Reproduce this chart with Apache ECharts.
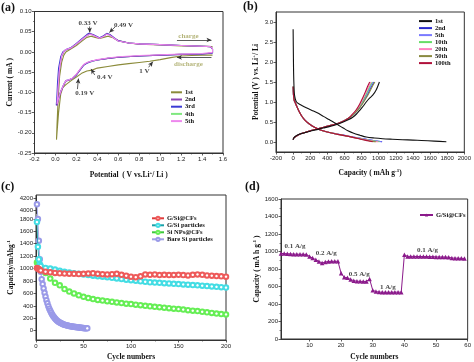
<!DOCTYPE html>
<html><head><meta charset="utf-8">
<script src="https://cdn.jsdelivr.net/npm/echarts@6/dist/echarts.min.js"></script>
<style>html,body{margin:0;padding:0;background:#fff}#c{width:474px;height:362px}</style>
</head><body><div id="c"></div>
<script>
// ---------- Panel (a): CV curves [V, mA] ----------
var cv1st = [[1.50,-0.008],[1.40,-0.008],[1.30,-0.009],[1.20,-0.010],[1.10,-0.014],[1.00,-0.019],[0.90,-0.023],[0.80,-0.026],[0.70,-0.029],[0.60,-0.032],[0.50,-0.036],[0.40,-0.040],[0.35,-0.045],[0.30,-0.047],[0.25,-0.053],[0.20,-0.062],[0.15,-0.071],[0.10,-0.081],[0.07,-0.088],[0.05,-0.105],[0.03,-0.150],[0.015,-0.200],[0.01,-0.217],[0.015,-0.180],[0.025,-0.120],[0.04,-0.060],[0.06,-0.025],[0.08,-0.008],[0.10,0.000],[0.15,0.008],[0.20,0.016],[0.25,0.026],[0.30,0.036],[0.34,0.039],[0.38,0.036],[0.42,0.033],[0.46,0.036],[0.50,0.039],[0.55,0.035],[0.60,0.028],[0.70,0.022],[0.80,0.019],[1.00,0.017],[1.20,0.015],[1.40,0.014],[1.50,0.013]];
var cv2nd = [[1.50,-0.002],[1.45,-0.004],[1.40,-0.005],[1.20,-0.006],[1.00,-0.008],[0.80,-0.010],[0.60,-0.013],[0.50,-0.016],[0.40,-0.020],[0.35,-0.022],[0.30,-0.027],[0.27,-0.032],[0.24,-0.042],[0.20,-0.056],[0.16,-0.066],[0.13,-0.070],[0.10,-0.072],[0.08,-0.082],[0.05,-0.100],[0.03,-0.117],[0.015,-0.133],[0.01,-0.137],[0.02,-0.110],[0.03,-0.075],[0.04,-0.040],[0.06,-0.010],[0.08,0.000],[0.10,0.005],[0.15,0.010],[0.20,0.020],[0.25,0.030],[0.30,0.041],[0.33,0.045],[0.36,0.042],[0.42,0.034],[0.46,0.039],[0.49,0.045],[0.52,0.042],[0.56,0.034],[0.60,0.027],[0.70,0.022],[0.80,0.020],[1.00,0.018],[1.20,0.016],[1.40,0.014],[1.48,0.013],[1.50,0.008],[1.50,-0.002]];
var cv3rd = [[1.50,-0.003],[1.40,-0.005],[1.20,-0.006],[1.00,-0.008],[0.80,-0.010],[0.60,-0.013],[0.50,-0.016],[0.40,-0.020],[0.35,-0.023],[0.30,-0.028],[0.27,-0.033],[0.24,-0.043],[0.20,-0.057],[0.16,-0.066],[0.13,-0.069],[0.10,-0.071],[0.08,-0.080],[0.05,-0.098],[0.03,-0.113],[0.015,-0.127],[0.008,-0.132],[0.015,-0.105],[0.02,-0.075],[0.03,-0.040],[0.05,-0.012],[0.07,0.000],[0.10,0.006],[0.15,0.011],[0.20,0.021],[0.25,0.032],[0.30,0.043],[0.32,0.046],[0.36,0.043],[0.42,0.035],[0.46,0.040],[0.49,0.046],[0.52,0.043],[0.56,0.035],[0.60,0.028],[0.70,0.022],[0.80,0.020],[1.00,0.018],[1.20,0.016],[1.40,0.014],[1.48,0.013],[1.50,0.007],[1.50,-0.003]];
var cv4th = [[1.50,-0.002],[1.40,-0.005],[1.20,-0.006],[1.00,-0.008],[0.80,-0.010],[0.60,-0.013],[0.50,-0.016],[0.40,-0.020],[0.30,-0.027],[0.27,-0.032],[0.24,-0.042],[0.20,-0.056],[0.16,-0.066],[0.13,-0.070],[0.10,-0.072],[0.08,-0.081],[0.05,-0.099],[0.03,-0.115],[0.015,-0.130],[0.01,-0.134],[0.02,-0.108],[0.03,-0.073],[0.04,-0.039],[0.06,-0.010],[0.08,0.000],[0.10,0.005],[0.15,0.010],[0.20,0.020],[0.25,0.030],[0.30,0.040],[0.33,0.044],[0.36,0.041],[0.42,0.034],[0.46,0.038],[0.49,0.044],[0.52,0.041],[0.56,0.034],[0.60,0.027],[0.70,0.022],[0.80,0.020],[1.00,0.018],[1.20,0.016],[1.40,0.014],[1.48,0.013],[1.50,0.008],[1.50,-0.002]];
var cv5th = [[1.50,-0.001],[1.40,-0.004],[1.20,-0.005],[1.00,-0.007],[0.80,-0.009],[0.60,-0.012],[0.50,-0.015],[0.40,-0.019],[0.30,-0.026],[0.27,-0.031],[0.24,-0.041],[0.20,-0.055],[0.16,-0.065],[0.13,-0.069],[0.10,-0.071],[0.08,-0.080],[0.05,-0.098],[0.03,-0.114],[0.015,-0.129],[0.01,-0.133],[0.02,-0.107],[0.03,-0.072],[0.04,-0.038],[0.06,-0.009],[0.08,0.001],[0.10,0.006],[0.15,0.010],[0.20,0.020],[0.25,0.030],[0.30,0.040],[0.33,0.044],[0.36,0.041],[0.42,0.034],[0.46,0.038],[0.49,0.044],[0.52,0.041],[0.56,0.034],[0.60,0.027],[0.70,0.022],[0.80,0.020],[1.00,0.018],[1.20,0.016],[1.40,0.014],[1.48,0.013],[1.50,0.008],[1.50,-0.001]];
var cvNames = ['1st','2nd','3rd','4th','5th'];
// annotations [V, I, text]
var cvNotes = [[0.31,0.072,'0.33 V'],[0.65,0.066,'0.49 V'],[0.47,-0.063,'0.4 V'],[0.28,-0.101,'0.19 V'],[0.85,-0.048,'1 V']];
var cvArrows = [[[0.326,0.063],[0.328,0.048]],[[0.57,0.062],[0.515,0.048]],[[0.375,-0.057],[0.34,-0.042]],[[0.21,-0.092],[0.22,-0.066]],[[0.89,-0.038],[0.93,-0.024]]];
var cvDirNotes = [[1.27,0.0395,'charge'],[1.27,-0.030,'discharge']];
var cvDirArrows = [[[1.16,0.0296],[1.49,0.0296]],[[1.49,-0.0135],[1.16,-0.0135]]];

// ---------- Panel (b): charge/discharge [mAh/g, V] ----------
var b1dis = [[0,2.82],[2,2.4],[4,2.0],[6,1.7],[10,1.4],[15,1.2],[25,1.08],[40,1.0],[70,0.95],[123,0.89],[180,0.83],[238,0.775],[300,0.71],[354,0.64],[420,0.56],[469,0.5],[530,0.42],[585,0.35],[640,0.28],[700,0.225],[780,0.17],[854,0.125],[950,0.10],[1046,0.083],[1160,0.07],[1277,0.058],[1400,0.047],[1500,0.038],[1650,0.022],[1790,0.005]];
var b1chg = [[0,0.06],[15,0.12],[46,0.17],[123,0.225],[200,0.27],[277,0.31],[350,0.35],[430,0.39],[510,0.44],[585,0.5],[650,0.56],[700,0.625],[740,0.70],[777,0.79],[820,0.90],[854,1.0],[890,1.09],[930,1.17],[970,1.30],[1008,1.5]];
var b2dis = [[0,1.38],[2,1.28],[5,1.15],[12,1.05],[25,0.98],[45,0.88],[70,0.76],[100,0.65],[140,0.54],[190,0.45],[250,0.37],[320,0.30],[400,0.25],[500,0.205],[600,0.165],[700,0.125],[800,0.088],[880,0.058],[950,0.033],[1000,0.018],[1040,0.005]];
var b2chg = [[0,0.06],[8,0.10],[25,0.13],[50,0.165],[90,0.205],[140,0.24],[200,0.28],[280,0.325],[360,0.37],[440,0.415],[520,0.465],[590,0.525],[650,0.6],[700,0.68],[750,0.79],[795,0.92],[840,1.08],[880,1.24],[915,1.39],[945,1.5]];
var b5dis = [[0,1.38],[2,1.28],[5,1.15],[12,1.05],[25,0.98],[45,0.88],[70,0.76],[100,0.65],[140,0.54],[190,0.45],[250,0.37],[320,0.30],[400,0.25],[500,0.205],[600,0.165],[700,0.124],[800,0.086],[880,0.056],[950,0.031],[1000,0.016],[1035,0.005]];
var b5chg = [[0,0.06],[8,0.10],[25,0.13],[50,0.165],[90,0.205],[140,0.24],[200,0.28],[280,0.325],[360,0.37],[440,0.415],[520,0.465],[590,0.525],[650,0.6],[700,0.68],[748,0.79],[792,0.92],[835,1.08],[873,1.24],[906,1.39],[935,1.5]];
var b10dis = [[0,1.39],[2,1.28],[5,1.15],[12,1.05],[25,0.98],[45,0.88],[70,0.76],[100,0.65],[140,0.54],[190,0.45],[250,0.37],[320,0.30],[400,0.25],[500,0.204],[600,0.163],[700,0.12],[800,0.08],[880,0.048],[950,0.024],[990,0.012],[1010,0.005]];
var b10chg = [[0,0.06],[8,0.10],[25,0.13],[50,0.165],[90,0.205],[140,0.24],[200,0.28],[280,0.325],[360,0.37],[440,0.415],[520,0.465],[590,0.525],[650,0.6],[700,0.685],[745,0.8],[788,0.93],[828,1.09],[865,1.25],[897,1.4],[925,1.5]];
var b20dis = [[0,1.39],[2,1.28],[5,1.15],[12,1.05],[25,0.98],[45,0.88],[70,0.76],[100,0.65],[140,0.54],[190,0.45],[250,0.37],[320,0.30],[400,0.25],[500,0.203],[600,0.162],[700,0.118],[800,0.076],[880,0.043],[940,0.02],[975,0.01],[995,0.005]];
var b20chg = [[0,0.06],[8,0.10],[25,0.13],[50,0.165],[90,0.205],[140,0.24],[200,0.28],[280,0.325],[360,0.37],[440,0.415],[520,0.465],[590,0.525],[650,0.6],[695,0.69],[740,0.8],[782,0.94],[820,1.1],[855,1.26],[885,1.4],[910,1.5]];
var b50dis = [[0,1.39],[2,1.28],[5,1.15],[12,1.05],[25,0.98],[45,0.88],[70,0.76],[100,0.65],[140,0.54],[190,0.45],[250,0.37],[320,0.30],[400,0.25],[500,0.202],[600,0.16],[700,0.115],[800,0.07],[870,0.038],[925,0.016],[955,0.008],[970,0.005]];
var b50chg = [[0,0.06],[8,0.10],[25,0.13],[50,0.165],[90,0.205],[140,0.24],[200,0.28],[280,0.325],[360,0.37],[440,0.415],[520,0.465],[590,0.525],[650,0.6],[700,0.68],[752,0.79],[800,0.92],[848,1.08],[890,1.24],[925,1.39],[955,1.5]];
var b100dis = [[0,1.38],[2,1.28],[5,1.15],[12,1.05],[25,0.98],[45,0.88],[70,0.76],[100,0.65],[140,0.54],[190,0.45],[250,0.37],[320,0.30],[400,0.25],[500,0.2],[600,0.16],[700,0.115],[780,0.075],[850,0.04],[900,0.018],[930,0.005]];
var b100chg = [[0,0.06],[8,0.10],[25,0.13],[50,0.165],[90,0.205],[140,0.24],[200,0.28],[280,0.325],[360,0.37],[440,0.415],[520,0.465],[590,0.525],[650,0.6],[690,0.69],[735,0.8],[775,0.94],[812,1.1],[845,1.26],[872,1.4],[895,1.5]];
var gcNames = ['1st','2nd','5th','10th','20th','50th','100th'];

// ---------- Panel (c): cycling ----------
var cCycles = [1,2,3,4,5,10,15,20,25,30,35,40,45,50,55,60,65,70,75,80,85,90,95,100,105,110,115,120,125,130,135,140,145,150,155,160,165,170,175,180,185,190,195,200];
var cGSiCF = [1010,1000,990,980,970,950,940,930,925,920,918,915,912,915,920,925,915,910,905,910,915,900,885,870,862,875,905,900,905,895,900,895,898,900,895,890,900,905,900,890,885,880,875,870];
var cGSiPart = [1750,1350,1150,1070,1040,1010,1000,985,965,950,935,925,915,905,895,885,878,870,862,852,842,832,822,813,805,796,788,780,775,770,765,760,755,750,745,740,735,730,725,718,712,706,700,695];
var cSiNP = [1100,1080,1050,1020,1000,930,840,770,730,670,630,600,570,545,525,510,495,485,475,465,455,445,435,428,418,410,400,392,385,378,370,362,355,348,340,330,322,315,305,295,285,275,268,262];
var cBareSi = [4100,1800,1450,1150,950,830,750,680,610,550,490,440,395,355,320,290,260,235,215,195,180,165,152,140,130,122,114,107,101,96,91,87,83,79,76,73,70,67,64,62,60,58,56,54,52,50,48,46,44,42,41,40,39,38];
var cNames = ['G/Si@CFs','G/Si particles','Si NPs@CFs','Bare Si particles'];
var cTicks = [0,200,400,600,800,1000,1200,1400,1600,1800,4000,4200];

// ---------- Panel (d): rate ----------
var dCap = [978,976,974,972,970,969,968,968,967, 944,925,906,887,868,880,886,888,888,888, 751,705,701,679,667,660,659,658,658,686, 557,542,536,534,534,534,534,535,535,535, 963,944,944,944,943,943,942,942,941,941,938,937,937,936,935,925,924,923,922,921];
var dNotes = [[5.4,1060,'0.1 A/g'],[15.3,977,'0.2 A/g'],[25.7,739,'0.5 A/g'],[34.8,594,'1 A/g'],[47.3,1011,'0.1 A/g']];
var dTicks = [10,20,30,40,50,60];

// ---------- helpers ----------
var SERIF = '"Liberation Serif","Times New Roman",serif';
var SANS = '"Liberation Sans",Arial,sans-serif';
function plain(v) { return String(v); }
function axis(o) {
  var a = {
    type: 'value', gridIndex: o.g, min: o.min, max: o.max, interval: o.interval,
    name: o.name, nameLocation: 'middle', nameGap: o.gap,
    nameTextStyle: {fontFamily: SERIF, fontWeight: 'bold', fontSize: 7.5, color: '#111',
      rich: {s: {fontFamily: SERIF, fontWeight: 'bold', fontSize: 5, color: '#111', padding: [0,0,5,0]}}},
    axisLine: {show: true, onZero: false, lineStyle: {color: '#333', width: 1}},
    axisTick: {show: true, inside: false, length: 2.5, lineStyle: {color: '#333', width: 0.8}},
    minorTick: {show: o.minor !== false, splitNumber: 2, length: 1.5, lineStyle: {color: '#333', width: 0.6}},
    splitLine: {show: false},
    axisLabel: {fontFamily: SANS, fontSize: 6, color: '#222', margin: 3, formatter: o.fmt || plain, hideOverlap: false}
  };
  if (o.custom) { a.axisLabel.customValues = o.custom; a.axisTick.customValues = o.custom; }
  if (o.breaks) { a.breaks = o.breaks; a.breakArea = {show: false}; }
  return a;
}
function xy(xs, ys) { return ys.map(function (v, i) { return [xs[i], v]; }); }
function idx(ys) { return ys.map(function (v, i) { return [i + 1, v]; }); }
function lineS(name, data, color, g, z, smooth) {
  return {type: 'line', name: name, xAxisIndex: g, yAxisIndex: g, data: data, showSymbol: false, symbol: 'none',
    smooth: smooth || false, lineStyle: {color: color, width: 1.1}, itemStyle: {color: color}, z: z || 2, silent: true};
}
function noteS(g, notes, color, arrows, fs) {
  return {type: 'scatter', name: 'note' + g + color, xAxisIndex: g, yAxisIndex: g, data: notes,
    symbolSize: 1, itemStyle: {color: 'rgba(0,0,0,0)'}, silent: true, z: 10,
    label: {show: true, position: 'inside', formatter: function (p) { return p.value[2]; },
      fontFamily: SERIF, fontWeight: 'bold', fontSize: fs || 7, color: color},
    markLine: arrows ? {silent: true, symbol: ['none', 'arrow'], symbolSize: [3.5, 5], animation: false,
      label: {show: false}, lineStyle: {color: '#333', width: 0.8, type: 'solid'},
      data: arrows.map(function (a) { return [{coord: a[0]}, {coord: a[1]}]; })} : undefined};
}
function legend(o) {
  return {data: o.data, left: o.left, top: o.top, orient: 'vertical', itemWidth: o.w, itemHeight: o.h,
    itemGap: 0, padding: 0, icon: o.icon, selectedMode: false,
    formatter: function (n) { return n.slice(1); },
    textStyle: {fontFamily: SERIF, fontWeight: 'bold', fontSize: 6.5, lineHeight: o.lh, color: '#111', padding: [0,0,0,-2]}};
}

var aCols = ['#8b8b3a', '#8c45b4', '#3b3bd4', '#7fe87f', '#ee88ee'];
var bCols = ['#111111', '#2a2acc', '#7a7aff', '#66dd66', '#ff80c0', '#8a8a40', '#b0103a'];

var series = [];
// panel a
series.push(lineS('a4th', cv4th, aCols[3], 0, 2));
series.push(lineS('a1st', cv1st, aCols[0], 0, 3));
series.push(lineS('a3rd', cv3rd, aCols[2], 0, 4));
series.push(lineS('a2nd', cv2nd, aCols[1], 0, 5));
series.push(lineS('a5th', cv5th, aCols[4], 0, 6));
series.push(noteS(0, cvNotes, '#111', cvArrows, 7));
series.push(noteS(0, cvDirNotes, '#a3a35a', cvDirArrows, 7));
// panel b
var bData = [[b2dis, b2chg], [b5dis, b5chg], [b10dis, b10chg], [b20dis, b20chg], [b50dis, b50chg], [b100dis, b100chg], [b1dis, b1chg]];
var bOrder = [1, 2, 3, 4, 5, 6, 0];
bOrder.forEach(function (k, j) {
  series.push(lineS('b' + gcNames[k], bData[j][0], bCols[k], 1, 2 + j, 0.3));
  series.push(lineS('b' + gcNames[k], bData[j][1], bCols[k], 1, 2 + j, 0.3));
});
// panel c
function cS(name, data, lc, mc, z) {
  return {type: 'line', name: name, xAxisIndex: 2, yAxisIndex: 2, data: data, symbol: 'emptyCircle', symbolSize: 4.5,
    showSymbol: true, showAllSymbol: true, lineStyle: {color: lc, width: 0.9}, itemStyle: {color: mc, borderColor: mc, borderWidth: 0.8}, z: z, silent: true};
}
series.push(cS('c' + cNames[3], idx(cBareSi), '#a0a0e6', '#9a9ae8', 2));
series.push(cS('c' + cNames[2], xy(cCycles, cSiNP), '#3cc83c', '#66ee55', 3));
series.push(cS('c' + cNames[1], xy(cCycles, cGSiPart), '#1aa0a8', '#44dde4', 4));
series.push(cS('c' + cNames[0], xy(cCycles, cGSiCF), '#e03c3c', '#ee5a5a', 5));
// panel d
series.push({type: 'line', name: 'dG/Si@CFs', xAxisIndex: 3, yAxisIndex: 3, data: idx(dCap), symbol: 'triangle', symbolSize: 4.5,
  showAllSymbol: true, lineStyle: {color: '#8b1a8b', width: 1}, itemStyle: {color: '#8b1a8b'}, z: 3, silent: true});
series.push(noteS(3, dNotes, '#111', null, 7));

var option = {
  animation: false,
  backgroundColor: '#fff',
  grid: [
    {left: 34.5, top: 11.5, width: 188.5, height: 141.5, show: true, borderColor: '#333', borderWidth: 1},
    {left: 276, top: 12, width: 189, height: 140, show: true, borderColor: '#333', borderWidth: 1},
    {left: 36, top: 195, width: 190, height: 146, show: true, borderColor: '#333', borderWidth: 1},
    {left: 281, top: 199, width: 189, height: 141, show: true, borderColor: '#333', borderWidth: 1}
  ],
  xAxis: [
    axis({g: 0, min: -0.2, max: 1.6, interval: 0.2, fmt: function (v) { return v.toFixed(1); }, name: 'Potential  ( V vs.Li{s|+}/ Li )', gap: 17}),
    axis({g: 1, min: -200, max: 2000, interval: 200, name: 'Capacity ( mAh g{s|-1})', gap: 16}),
    axis({g: 2, min: 0, max: 200, interval: 50, name: 'Cycle numbers', gap: 13}),
    axis({g: 3, min: 1, max: 60, custom: dTicks, minor: false, name: 'Cycle numbers', gap: 14})
  ],
  yAxis: [
    axis({g: 0, min: -0.25, max: 0.10, interval: 0.05, fmt: function (v) { return v.toFixed(2); }, name: 'Current ( mA )', gap: 20}),
    axis({g: 1, min: -0.25, max: 3.25, custom: [0, 0.5, 1, 1.5, 2, 2.5, 3], minor: false, fmt: function (v) { return v.toFixed(1); }, name: 'Potential (V ) vs. Li{s|+}/ Li', gap: 15}),
    axis({g: 2, min: -150, max: 4250, custom: cTicks, minor: false, breaks: [{start: 1850, end: 3950, gap: '1.5%'}], name: 'Capacity/mAhg{s|-1}', gap: 20}),
    axis({g: 3, min: 0, max: 1600, interval: 200, name: 'Capacity ( mA h g{s|-1} )', gap: 18})
  ],
  legend: [
    legend({data: cvNames.map(function (n) { return 'a' + n; }), left: 171, top: 88.7, w: 11, h: 2, lh: 7.2, icon: 'rect'}),
    legend({data: gcNames.map(function (n) { return 'b' + n; }), left: 419, top: 17.6, w: 13, h: 2, lh: 6.8, icon: 'rect'}),
    legend({data: cNames.map(function (n) { return 'c' + n; }), left: 151, top: 214.8, w: 12, h: 4, lh: 7}),
    legend({data: ['dG/Si@CFs'], left: 419, top: 211.5, w: 13, h: 4, lh: 7})
  ],
  graphic: [
    {type: 'text', left: 1, top: 2, style: {text: '(a)', font: 'bold 12px ' + SERIF, fill: '#111'}},
    {type: 'text', left: 243, top: 1, style: {text: '(b)', font: 'bold 12px ' + SERIF, fill: '#111'}},
    {type: 'text', left: 1, top: 181, style: {text: '(c)', font: 'bold 12px ' + SERIF, fill: '#111'}},
    {type: 'text', left: 245, top: 181, style: {text: '(d)', font: 'bold 12px ' + SERIF, fill: '#111'}}
  ],
  series: series
};
var chart = echarts.init(document.getElementById('c'), null, {renderer: 'canvas'});
chart.setOption(option);
</script></body></html>
